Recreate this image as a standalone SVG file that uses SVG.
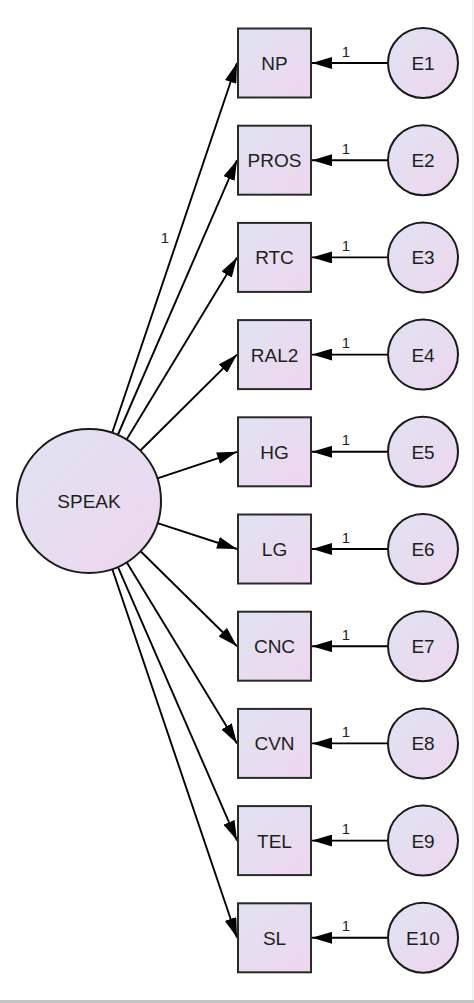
<svg xmlns="http://www.w3.org/2000/svg" width="474" height="1003" viewBox="0 0 474 1003">
<defs>
<linearGradient id="g" x1="0" y1="0" x2="1" y2="1">
<stop offset="0" stop-color="#dfe3f1"/>
<stop offset="1" stop-color="#eed6ef"/>
</linearGradient>
<marker id="ah" viewBox="0 0 20 12" markerWidth="20" markerHeight="12" refX="20" refY="6" orient="auto" markerUnits="userSpaceOnUse">
<path d="M0,0 L20,6 L0,12 Z" fill="#000"/>
</marker>
<style>
.box{fill:url(#g);stroke:#2a2a2a;stroke-width:2}
.lat{fill:url(#g);stroke:#1a1a1a;stroke-width:2}
.lbl{font-family:"Liberation Sans",Arial,sans-serif;font-size:19px;fill:#1e1e1e;text-anchor:middle}
.one{font-family:"Liberation Sans",Arial,sans-serif;font-size:15px;fill:#222;text-anchor:middle}
.c line{stroke:#000;stroke-width:1.9;marker-end:url(#ah)}
</style>
</defs>
<rect x="0" y="0" width="474" height="1003" fill="#fff"/>
<rect x="0" y="1000" width="474" height="3" fill="#c4c4c4"/>
<line x1="472.5" y1="0" x2="472.5" y2="1000" stroke="#ececec" stroke-width="1"/>
<g id="connectors" class="c">
<line x1="112.2" y1="432.8" x2="237" y2="63"/>
<line x1="117.8" y1="435.0" x2="237" y2="160.2"/>
<line x1="126.6" y1="439.6" x2="237" y2="257.4"/>
<line x1="140.4" y1="450.5" x2="237" y2="354.6"/>
<line x1="157.4" y1="478.4" x2="237" y2="451.8"/>
<line x1="157.5" y1="523.1" x2="237" y2="549"/>
<line x1="140.6" y1="551.3" x2="237" y2="646.2"/>
<line x1="126.7" y1="562.3" x2="237" y2="743.4"/>
<line x1="117.9" y1="566.9" x2="237" y2="840.6"/>
<line x1="112.3" y1="569.2" x2="237" y2="937.8"/>
<line x1="388" y1="63" x2="312" y2="63"/>
<line x1="388" y1="160.2" x2="312" y2="160.2"/>
<line x1="388" y1="257.4" x2="312" y2="257.4"/>
<line x1="388" y1="354.6" x2="312" y2="354.6"/>
<line x1="388" y1="451.8" x2="312" y2="451.8"/>
<line x1="388" y1="549" x2="312" y2="549"/>
<line x1="388" y1="646.2" x2="312" y2="646.2"/>
<line x1="388" y1="743.4" x2="312" y2="743.4"/>
<line x1="388" y1="840.6" x2="312" y2="840.6"/>
<line x1="388" y1="937.8" x2="312" y2="937.8"/>
<text class="one" x="165" y="243">1</text>
<text class="one" x="346" y="56.5">1</text>
<text class="one" x="346" y="153.7">1</text>
<text class="one" x="346" y="250.9">1</text>
<text class="one" x="346" y="348.1">1</text>
<text class="one" x="346" y="445.3">1</text>
<text class="one" x="346" y="542.5">1</text>
<text class="one" x="346" y="639.7">1</text>
<text class="one" x="346" y="736.9">1</text>
<text class="one" x="346" y="834.1">1</text>
<text class="one" x="346" y="931.3">1</text>
</g>
<g id="SPEAK"><circle class="lat" cx="89" cy="501" r="72"/><text class="lbl" x="89" y="508">SPEAK</text></g>
<g id="NP"><rect class="box" x="238" y="28.5" width="73" height="69"/><text class="lbl" x="274.5" y="70">NP</text></g>
<g id="PROS"><rect class="box" x="238" y="125.7" width="73" height="69"/><text class="lbl" x="274.5" y="167.2">PROS</text></g>
<g id="RTC"><rect class="box" x="238" y="222.9" width="73" height="69"/><text class="lbl" x="274.5" y="264.4">RTC</text></g>
<g id="RAL2"><rect class="box" x="238" y="320.1" width="73" height="69"/><text class="lbl" x="274.5" y="361.6">RAL2</text></g>
<g id="HG"><rect class="box" x="238" y="417.3" width="73" height="69"/><text class="lbl" x="274.5" y="458.8">HG</text></g>
<g id="LG"><rect class="box" x="238" y="514.5" width="73" height="69"/><text class="lbl" x="274.5" y="556">LG</text></g>
<g id="CNC"><rect class="box" x="238" y="611.7" width="73" height="69"/><text class="lbl" x="274.5" y="653.2">CNC</text></g>
<g id="CVN"><rect class="box" x="238" y="708.9" width="73" height="69"/><text class="lbl" x="274.5" y="750.4">CVN</text></g>
<g id="TEL"><rect class="box" x="238" y="806.1" width="73" height="69"/><text class="lbl" x="274.5" y="847.6">TEL</text></g>
<g id="SL"><rect class="box" x="238" y="903.3" width="73" height="69"/><text class="lbl" x="274.5" y="944.8">SL</text></g>
<g id="E1"><circle class="lat" cx="423" cy="63" r="35"/><text class="lbl" x="423" y="70">E1</text></g>
<g id="E2"><circle class="lat" cx="423" cy="160.2" r="35"/><text class="lbl" x="423" y="167.2">E2</text></g>
<g id="E3"><circle class="lat" cx="423" cy="257.4" r="35"/><text class="lbl" x="423" y="264.4">E3</text></g>
<g id="E4"><circle class="lat" cx="423" cy="354.6" r="35"/><text class="lbl" x="423" y="361.6">E4</text></g>
<g id="E5"><circle class="lat" cx="423" cy="451.8" r="35"/><text class="lbl" x="423" y="458.8">E5</text></g>
<g id="E6"><circle class="lat" cx="423" cy="549" r="35"/><text class="lbl" x="423" y="556">E6</text></g>
<g id="E7"><circle class="lat" cx="423" cy="646.2" r="35"/><text class="lbl" x="423" y="653.2">E7</text></g>
<g id="E8"><circle class="lat" cx="423" cy="743.4" r="35"/><text class="lbl" x="423" y="750.4">E8</text></g>
<g id="E9"><circle class="lat" cx="423" cy="840.6" r="35"/><text class="lbl" x="423" y="847.6">E9</text></g>
<g id="E10"><circle class="lat" cx="423" cy="937.8" r="35"/><text class="lbl" x="423" y="944.8">E10</text></g>
</svg>
